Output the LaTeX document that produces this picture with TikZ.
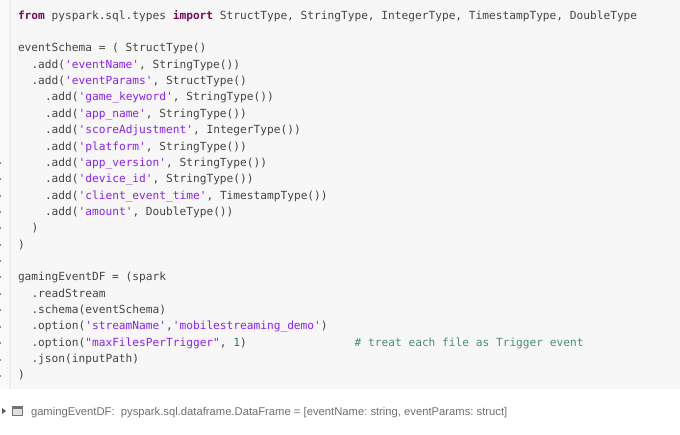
\documentclass[tikz,border=0pt]{standalone}
\usepackage{fontspec}
\setmainfont{Liberation Sans}
\newfontfamily\codefont{DejaVu Sans Mono}
\definecolor{cellbg}{HTML}{F7F7F7}
\definecolor{gutterbg}{HTML}{FAFAFA}
\definecolor{gutterline}{HTML}{EDEDED}
\definecolor{codetxt}{HTML}{444444}
\definecolor{kw}{HTML}{7A0A5A}
\definecolor{strc}{HTML}{8A22EE}
\definecolor{numc}{HTML}{2A7A5A}
\definecolor{cmt}{HTML}{4A8F72}
\definecolor{outtxt}{HTML}{707070}
\newcommand{\kwd}[1]{\textcolor{kw}{\textbf{#1}}}
\newcommand{\strg}[1]{\textcolor{strc}{#1}}
\newcommand{\numb}[1]{\textcolor{numc}{#1}}
\tikzset{
  codeline/.style={anchor=base west,inner sep=0pt,outer sep=0pt,text=codetxt,
    font=\codefont\fontsize{11.18}{13}\selectfont},
  outline/.style={anchor=base west,inner sep=0pt,outer sep=0pt,text=outtxt,
    font=\fontsize{11.24}{13}\selectfont},
}
\begin{document}
\begin{tikzpicture}[x=1pt,y=-1pt]
\frenchspacing
\useasboundingbox (0,0) rectangle (680,435);
\fill[white] (0,0) rectangle (680,435);
\fill[gutterbg] (0,0) rectangle (9,389);
\fill[gutterline] (9,0) rectangle (10.5,389);
\fill[cellbg] (10.5,0) rectangle (680,389);
\foreach \yy in {163,179,196,212,228,245,261,277,294,310,327,343,360,376}
  \fill[black!45] (0,\yy-1) rectangle (1,\yy+1);
\node[codeline] (l1) at (18,19.5) {\kwd{from} pyspark.sql.types \kwd{import} StructType, StringType, IntegerType, TimestampType, DoubleType};
\node[codeline] (l3) at (18,52) {eventSchema = ( StructType()};
\node[codeline] (l4) at (31.5,68.3) {.add(\strg{'eventName'}, StringType())};
\node[codeline] (l5) at (31.5,84.7) {.add(\strg{'eventParams'}, StructType()};
\node[codeline] (l6) at (45,101) {.add(\strg{'game\_keyword'}, StringType())};
\node[codeline] (l7) at (45,117.4) {.add(\strg{'app\_name'}, StringType())};
\node[codeline] (l8) at (45,133.7) {.add(\strg{'scoreAdjustment'}, IntegerType())};
\node[codeline] (l9) at (45,150.1) {.add(\strg{'platform'}, StringType())};
\node[codeline] (l10) at (45,166.4) {.add(\strg{'app\_version'}, StringType())};
\node[codeline] (l11) at (45,182.8) {.add(\strg{'device\_id'}, StringType())};
\node[codeline] (l12) at (45,199.1) {.add(\strg{'client\_event\_time'}, TimestampType())};
\node[codeline] (l13) at (45,215.5) {.add(\strg{'amount'}, DoubleType())};
\node[codeline] (l14) at (31.5,231.8) {)};
\node[codeline] (l15) at (18,248.2) {)};
\node[codeline] (l17) at (18,280.9) {gamingEventDF = (spark};
\node[codeline] (l18) at (31.5,297.2) {.readStream};
\node[codeline] (l19) at (31.5,313.6) {.schema(eventSchema)};
\node[codeline] (l20) at (31.5,329.9) {.option(\strg{'streamName'},\strg{'mobilestreaming\_demo'})};
\node[codeline] (l21) at (31.5,346.3) {.option(\strg{"maxFilesPerTrigger"}, \numb{1})};
\node[codeline,text=cmt] (l21c) at (354.7,346.3) {\# treat each file as Trigger event};
\node[codeline] (l22) at (31.5,362.6) {.json(inputPath)};
\node[codeline] (l23) at (18,379) {)};
% output line
\fill[black!65] (2,408) -- (6,411) -- (2,414) -- cycle;
\fill[black!12] (12,406) rectangle (23,416);
\draw[black!55,line width=0.8pt] (12.4,406.4) rectangle (22.6,415.6);
\fill[black!55] (12,406) rectangle (23,409);
\node[outline] (out) at (31,415) {gamingEventDF:\ \ pyspark.sql.dataframe.DataFrame = [eventName: string, eventParams: struct]};
\end{tikzpicture}
\end{document}
